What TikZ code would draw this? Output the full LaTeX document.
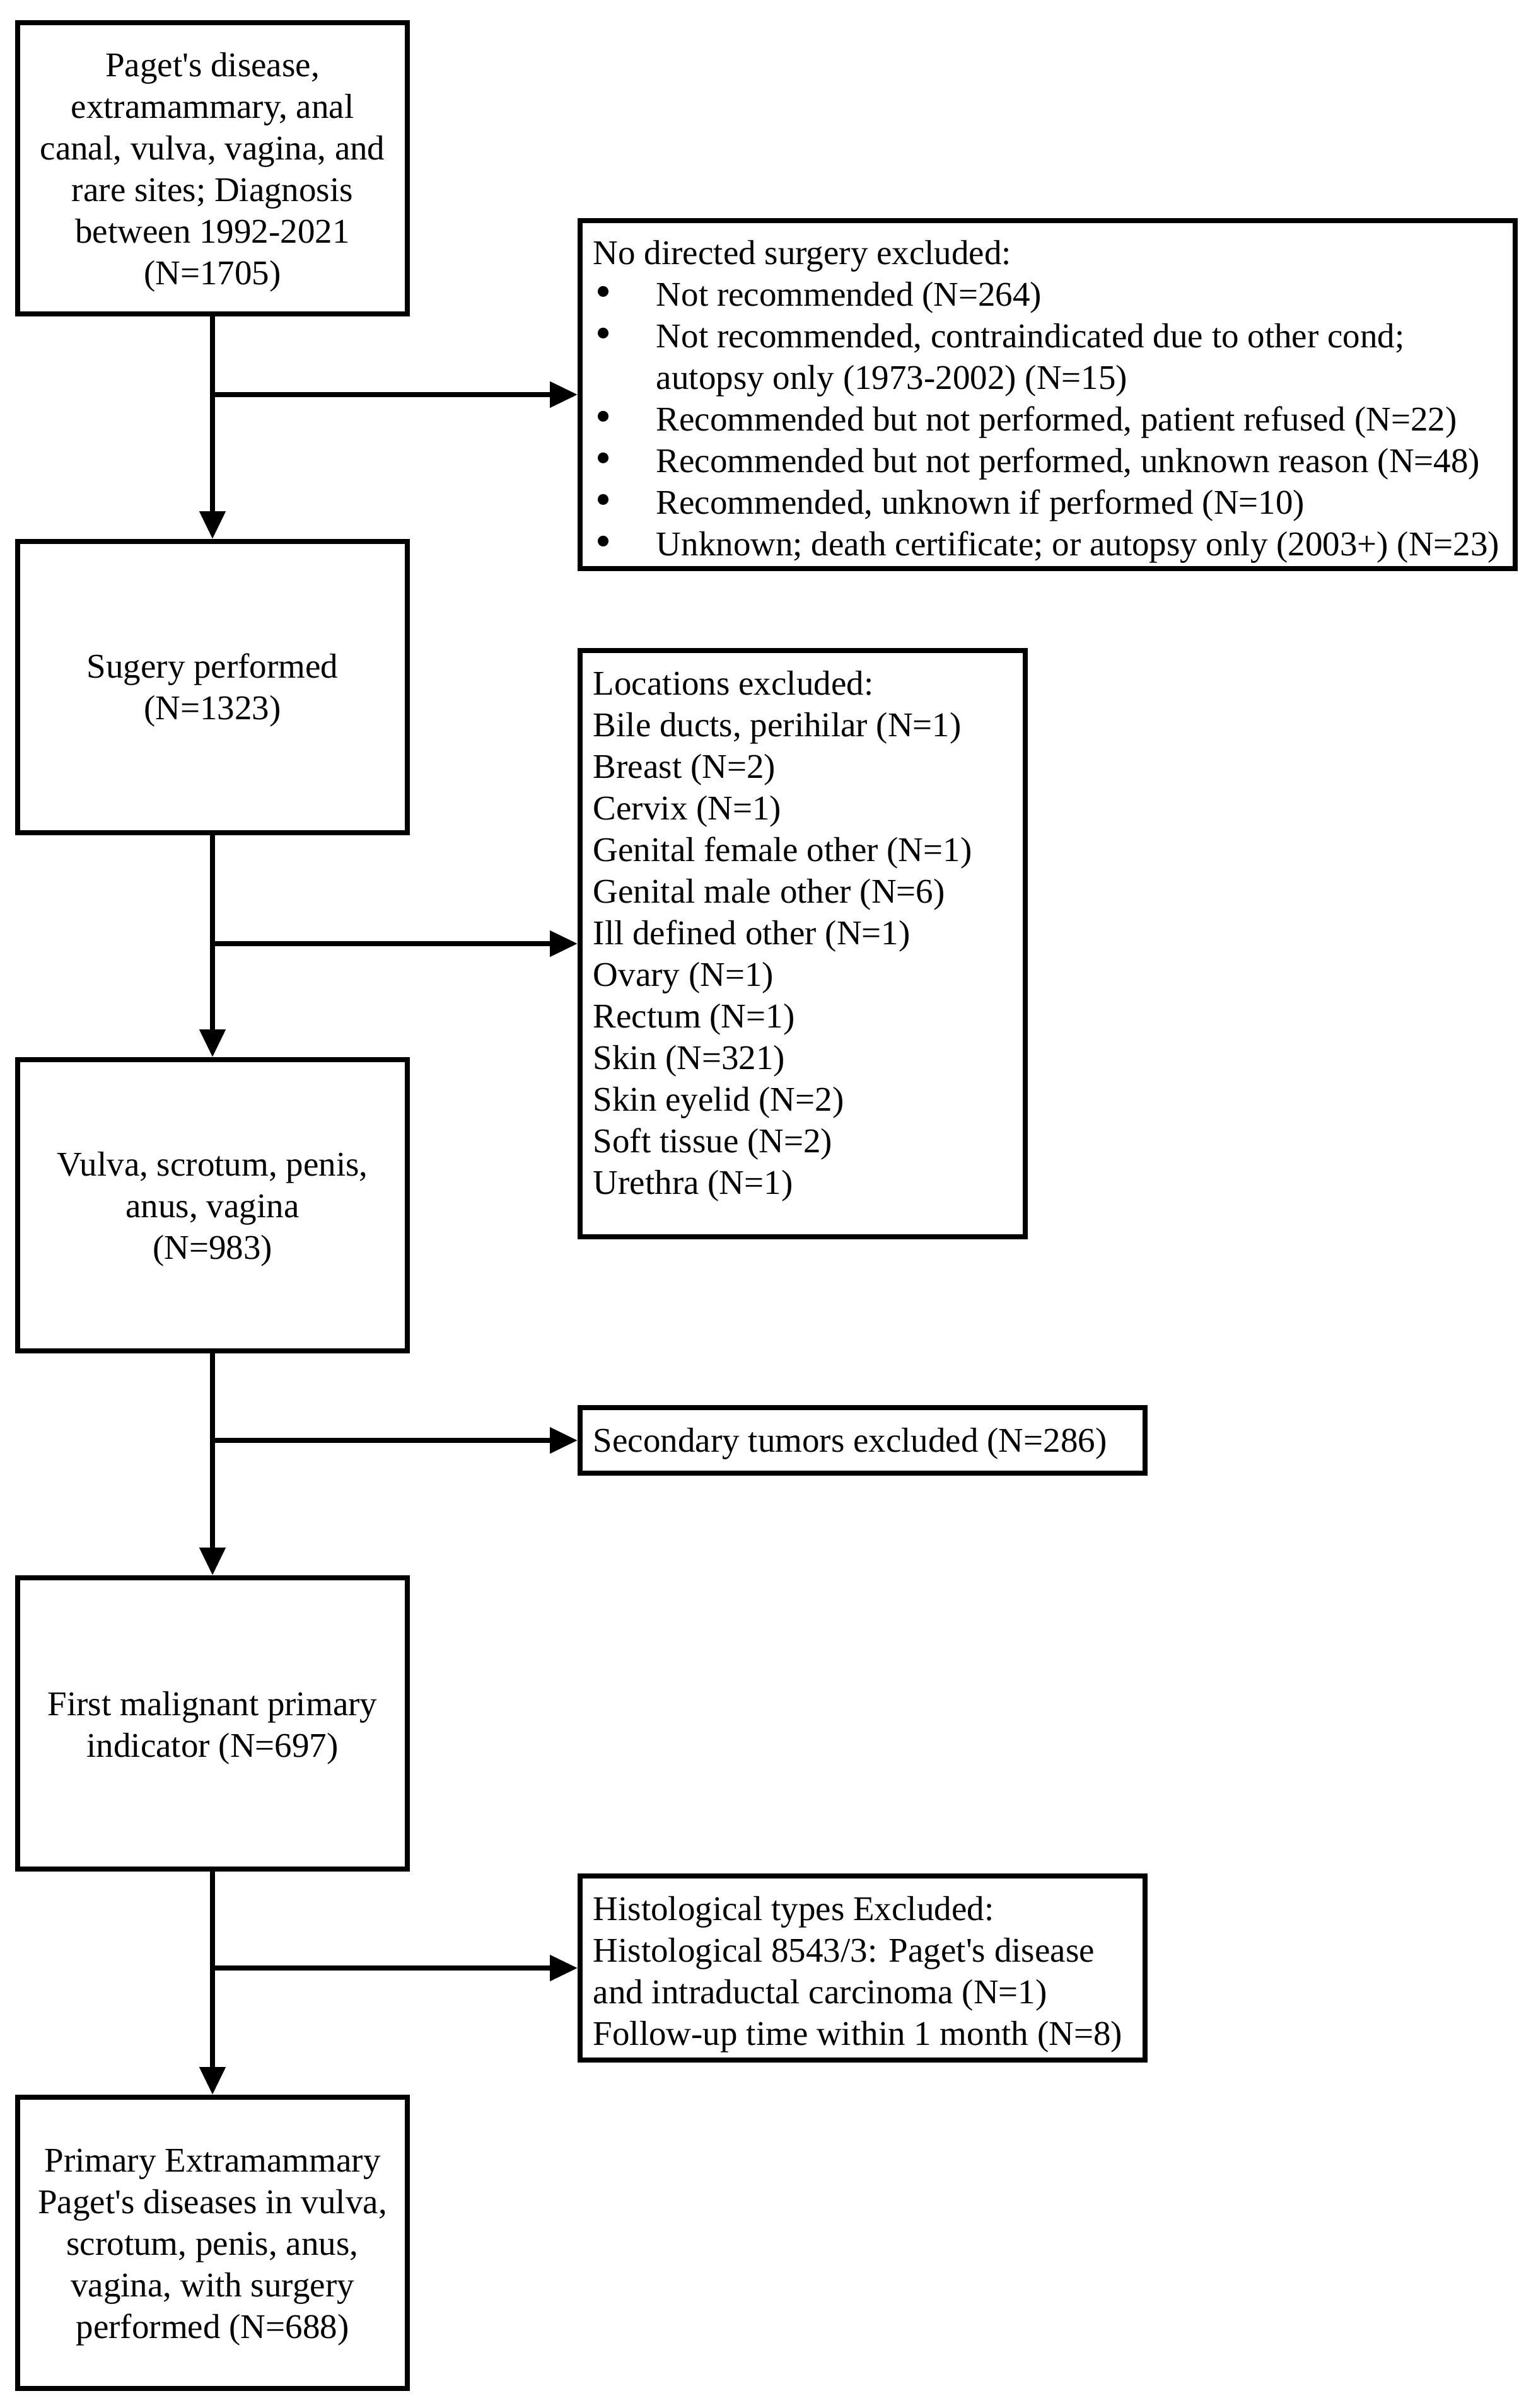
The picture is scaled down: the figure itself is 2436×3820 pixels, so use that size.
\documentclass[tikz,border=0pt]{standalone}
\usepackage{fontspec}
\setmainfont{Liberation Serif}[Ligatures=TeXOff]
\usetikzlibrary{arrows.meta}
\newcommand\fsz{\fontsize{13.75pt}{16.5pt}\selectfont}
\newcommand\bul{\makebox[25pt][l]{\hspace{1pt}\raisebox{-0.4pt}{\scalebox{1.3}{\textbullet}}}}
\newcommand\cont{\makebox[25pt]{}}
\newcommand\apos{\textquotesingle}
\tikzset{
  flowbox/.style={draw=black, line width=2pt, fill=white, minimum width=154.5pt,
    minimum height=115.5pt, inner sep=0pt},
  ctext/.style={inner sep=0pt, align=center, font=\fsz},
  exbox/.style={draw=black, line width=2pt, fill=white, inner sep=0pt},
  extext/.style={inner sep=0pt, align=left, anchor=west, font=\fsz},
  arr/.style={line width=2pt, -{Triangle[length=11pt,width=10pt]}},
}
\begin{document}
\begin{tikzpicture}[x=0.25pt,y=-0.25pt]
\fill[white] (0,0) rectangle (2436,3820);
\useasboundingbox (0,0) rectangle (2436,3820);

% main column boxes
\node[flowbox] (b1) at (337,267) {};
\node[flowbox] (b2) at (337,1090) {};
\node[flowbox] (b3) at (337,1912) {};
\node[flowbox] (b4) at (337,2734) {};
\node[flowbox] (b5) at (337,3558) {};

% main column texts
\node[ctext] (c1) at (337,273) {Paget\apos s disease,\\extramammary, anal\\canal, vulva, vagina, and\\rare sites; Diagnosis\\between 1992-2021\\(N=1705)};
\node[ctext] (c2) at (337,1095) {Sugery performed\\(N=1323)};
\node[ctext] (c3) at (337,1918) {Vulva, scrotum, penis,\\anus, vagina\\(N=983)};
\node[ctext] (c4) at (337,2741) {First malignant primary\\indicator (N=697)};
\node[ctext] (c5) at (337,3565) {Primary Extramammary\\Paget\apos s diseases in vulva,\\scrotum, penis, anus,\\vagina, with surgery\\performed (N=688)};

% exclusion boxes
\node[exbox, minimum width=370.75pt, minimum height=138pt] (r1) at (1661.5,626) {};
\node[exbox, minimum width=176.5pt, minimum height=232.5pt] (r2) at (1273,1497) {};
\node[exbox, minimum width=224pt, minimum height=26pt] (r3) at (1368,2285) {};
\node[exbox, minimum width=224pt, minimum height=73pt] (r4) at (1368,3122) {};

\node[extext] (t1) at (940,637) {No directed surgery excluded:\\
\bul Not recommended (N=264)\\
\bul Not recommended, contraindicated due to other cond;\\
\cont autopsy only (1973-2002) (N=15)\\
\bul Recommended but not performed, patient refused (N=22)\\
\bul Recommended but not performed, unknown reason (N=48)\\
\bul Recommended, unknown if performed (N=10)\\
\bul Unknown; death certificate; or autopsy only (2003+) (N=23)};

\node[extext] (t2) at (940,1485) {Locations excluded:\\
Bile ducts, perihilar (N=1)\\
Breast (N=2)\\
Cervix (N=1)\\
Genital female other (N=1)\\
Genital male other (N=6)\\
Ill defined other (N=1)\\
Ovary (N=1)\\
Rectum (N=1)\\
Skin (N=321)\\
Skin eyelid (N=2)\\
Soft tissue (N=2)\\
Urethra (N=1)};

\node[extext] (t3) at (940,2290) {Secondary tumors excluded (N=286)};

\node[extext] (t4) at (940,3132) {Histological types Excluded:\\
Histological 8543/3: Paget\apos s disease\\
and intraductal carcinoma (N=1)\\
Follow-up time within 1 month (N=8)};

% connectors
\draw[arr] (b1.south) -- (b2.north);
\draw[arr] (b2.south) -- (b3.north);
\draw[arr] (b3.south) -- (b4.north);
\draw[arr] (b4.south) -- (b5.north);
\draw[arr] (b1.south |- r1.west) -- (r1.west);
\draw[arr] (b2.south |- r2.west) -- (r2.west);
\draw[arr] (b3.south |- r3.west) -- (r3.west);
\draw[arr] (b4.south |- r4.west) -- (r4.west);
\end{tikzpicture}
\end{document}
